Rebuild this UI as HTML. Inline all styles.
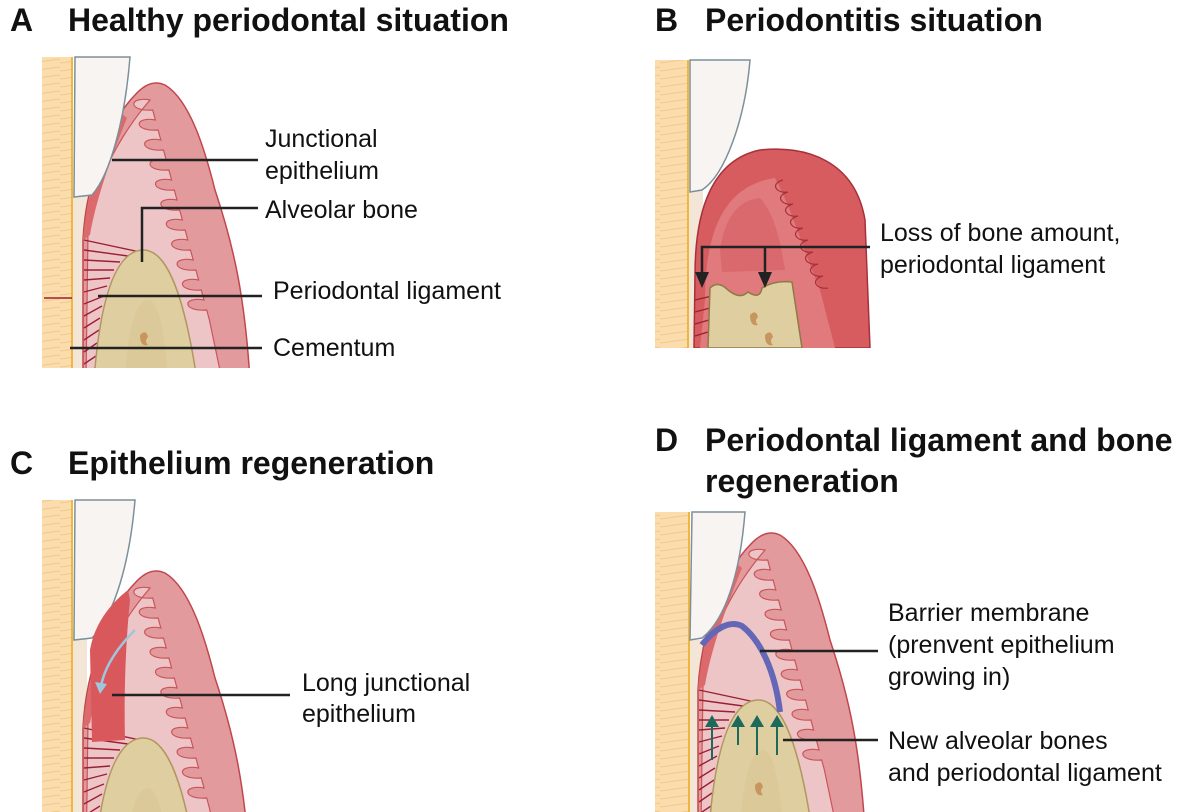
<!DOCTYPE html>
<html><head><meta charset="utf-8"><style>
html,body{margin:0;padding:0;background:#fff;overflow:hidden;width:1200px;height:812px;}
svg{display:block;font-family:"Liberation Sans",Arial,sans-serif;}
.t{font-size:32px;font-weight:bold;fill:#111;}
.l{font-size:25px;fill:#111;}
.ln{stroke:#222;stroke-width:2.5;fill:none;}
</style></head><body>
<svg width="1200" height="812" viewBox="0 0 1200 812" xmlns="http://www.w3.org/2000/svg">
<defs>
<clipPath id="cpA"><rect x="0" y="40" width="600" height="328"/></clipPath>
<clipPath id="cpB"><rect x="600" y="40" width="600" height="308"/></clipPath>
<clipPath id="cpC"><rect x="0" y="490" width="600" height="322"/></clipPath>
<clipPath id="cpD"><rect x="600" y="505" width="600" height="307"/></clipPath>
<pattern id="str" width="30" height="8" patternUnits="userSpaceOnUse">
<rect width="30" height="8" fill="#fadcad"/><line x1="0" y1="7" x2="30" y2="3" stroke="#f1c382" stroke-width="0.8"/>
</pattern>
<g id="gum">
<path d="M83,240 C86,180 110,120 135,95 Q150,78 165,85 C190,100 205,150 215,190 C235,250 245,300 250,380 L83,380 Z" fill="#e39a9d" stroke="#c0474d" stroke-width="1.5"/>
<path d="M88,232 C95,180 120,135 150,100 c-22,-4 -22,12 2.7,10 l2.7,10 c-22,-4 -22,12 2.7,10 l2.7,10 c-22,-4 -22,12 2.7,10 l2.7,10 c-22,-4 -22,12 2.7,10 l2.7,10 c-22,-4 -22,12 2.7,10 l2.7,10 c-22,-4 -22,12 2.7,10 l2.7,10 c-22,-4 -22,12 2.7,10 l2.7,10 c-22,-4 -22,12 2.7,10 l2.7,10 c-22,-4 -22,12 2.7,10 l2.7,10 c-22,-4 -22,12 2.7,10 l2.7,10 c-22,-4 -22,12 2.7,10 l2.7,10 L222,380 L86,380 Z" fill="#eec5c6" stroke="#c9555b" stroke-width="1.2"/>
<path d="M83,240 C86,200 100,150 120,112 L127,118 C110,160 96,200 90,235 Z" fill="#dc6a6d"/>
<g stroke="#9b1f33" stroke-width="1.4">
<line x1="84" y1="240" x2="140" y2="252"/><line x1="84" y1="250" x2="128" y2="256"/><line x1="84" y1="260" x2="120" y2="262"/><line x1="84" y1="270" x2="114" y2="270"/><line x1="84" y1="280" x2="110" y2="278"/><line x1="84" y1="292" x2="107" y2="286"/><line x1="84" y1="304" x2="104" y2="296"/><line x1="84" y1="316" x2="102" y2="306"/><line x1="84" y1="328" x2="100" y2="318"/><line x1="84" y1="340" x2="99" y2="330"/><line x1="84" y1="352" x2="97" y2="343"/><line x1="84" y1="364" x2="96" y2="356"/><line x1="84" y1="376" x2="95" y2="368"/>
</g>
<path d="M94,380 C100,300 115,252 142,250 C168,248 185,300 197,380 Z" fill="#dfcfa0" stroke="#b09760" stroke-width="1.5"/>
<path d="M125,380 C128,320 138,300 148,300 C158,300 165,330 168,380 Z" fill="#d8c494" opacity="0.6"/>
<path d="M140,335 q6,-6 8,2 q-4,4 0,8 q-8,2 -8,-10Z" fill="#c9955f"/>
</g>
</defs>

<!-- Panel A -->
<text x="10" y="31" class="t">A</text><text x="68" y="31" class="t">Healthy periodontal situation</text>
<g clip-path="url(#cpA)">
<rect x="42" y="57" width="30" height="311" fill="url(#str)"/>
<line x1="72" y1="57" x2="72" y2="368" stroke="#efb640" stroke-width="2"/>
<rect x="73" y="190" width="14" height="178" fill="#f3e6d6"/>
<use href="#gum"/>
<path d="M75,57 L130,57 C125,120 110,175 92,195 L74,197 Z" fill="#f8f4f2" stroke="#7d8f99" stroke-width="1.5"/>
<line x1="44" y1="298" x2="72" y2="298" stroke="#9b1f33" stroke-width="1.4"/>
</g>
<path class="ln" d="M112,160 H258 M142,262 V208 H258 M98,296 H262 M70,348 H262"/>
<text x="265" y="147" class="l">Junctional</text><text x="265" y="179" class="l">epithelium</text>
<text x="265" y="218" class="l">Alveolar bone</text>
<text x="273" y="299" class="l">Periodontal ligament</text>
<text x="273" y="356" class="l">Cementum</text>

<!-- Panel B -->
<text x="655" y="31" class="t">B</text><text x="705" y="31" class="t">Periodontitis situation</text>
<g clip-path="url(#cpB)">
<rect x="655" y="60" width="33" height="288" fill="url(#str)"/>
<line x1="688" y1="60" x2="688" y2="348" stroke="#efb640" stroke-width="2"/>
<rect x="689" y="190" width="14" height="158" fill="#f3e6d6"/>
<path d="M695,275 C695,210 712,160 760,150 C805,145 855,160 865,220 L870,348 L694,348 Z" fill="#d65c60" stroke="#a8303a" stroke-width="1.5"/>
<path d="M705,300 C705,230 725,185 775,178 C790,205 800,240 820,290 L835,348 L700,348 Z" fill="#e07a7c"/>
<path d="M720,250 C725,215 740,200 760,198 C775,215 780,240 785,270 L722,272 Z" fill="#d9696c"/>
<path d="M783,180 c-14,4 -6,14 5,12 c-14,4 -6,14 5,12 c-14,4 -6,14 5,12 c-14,4 -6,14 5,12 c-14,4 -6,14 5,12 c-14,4 -6,14 5,12 c-14,4 -6,14 5,12 c-14,4 -6,14 5,12 c-14,4 -6,14 5,12" fill="none" stroke="#a8303a" stroke-width="1.2"/>
<g stroke="#9b1f33" stroke-width="1.4"><line x1="695" y1="300" x2="712" y2="296"/><line x1="695" y1="312" x2="710" y2="308"/><line x1="695" y1="324" x2="709" y2="320"/><line x1="695" y1="336" x2="708" y2="332"/></g>
<path d="M708,348 L710,288 Q718,280 728,290 Q740,300 748,292 Q760,300 762,288 Q775,280 792,282 L802,348 Z" fill="#dfcfa0" stroke="#8e7a45" stroke-width="1.5"/>
<path d="M750,315 q6,-6 8,2 q-4,4 0,8 q-8,2 -8,-10Z M765,335 q6,-6 8,2 q-4,4 0,8 q-8,2 -8,-10Z" fill="#c9955f"/>
<path d="M690,60 L750,60 C745,120 725,175 702,190 L690,192 Z" fill="#f8f4f2" stroke="#7d8f99" stroke-width="1.5"/>
</g>
<path class="ln" d="M870,247 H702 V272 M765,247 V272"/>
<path d="M695,272 L709,272 L702,288 Z M758,272 L772,272 L765,288 Z" fill="#222"/>
<text x="880" y="241" class="l">Loss of bone amount,</text><text x="880" y="273" class="l">periodontal ligament</text>

<!-- Panel C -->
<text x="10" y="474" class="t">C</text><text x="68" y="474" class="t">Epithelium regeneration</text>
<g clip-path="url(#cpC)">
<rect x="42" y="500" width="30" height="312" fill="url(#str)"/>
<line x1="72" y1="500" x2="72" y2="812" stroke="#efb640" stroke-width="2"/>
<rect x="73" y="630" width="14" height="182" fill="#f3e6d6"/>
<use href="#gum" transform="translate(0,488)"/>
<path d="M75,500 L135,500 C130,560 115,615 92,638 L74,640 Z" fill="#f8f4f2" stroke="#7d8f99" stroke-width="1.5"/>
<path d="M90,650 C95,620 115,600 128,590 L130,600 C125,650 124,700 125,740 L92,742 Z" fill="#d9585c"/>
<path d="M135,630 C120,645 105,665 101,686" fill="none" stroke="#9fc6de" stroke-width="2.5"/>
<path d="M95,682 L107,684 L100,694 Z" fill="#9fc6de"/>
</g>
<path class="ln" d="M112,695 H290"/>
<text x="302" y="691" class="l">Long junctional</text><text x="302" y="722" class="l">epithelium</text>

<!-- Panel D -->
<text x="655" y="451" class="t">D</text><text x="705" y="451" class="t">Periodontal ligament and bone</text>
<text x="705" y="492" class="t">regeneration</text>
<g clip-path="url(#cpD)">
<rect x="655" y="512" width="34" height="300" fill="url(#str)"/>
<line x1="689" y1="512" x2="689" y2="812" stroke="#efb640" stroke-width="2"/>
<rect x="690" y="640" width="14" height="172" fill="#f3e6d6"/>
<use href="#gum" transform="translate(615,450)"/>
<path d="M692,512 L745,512 C740,575 725,620 702,638 L690,640 Z" fill="#f8f4f2" stroke="#7d8f99" stroke-width="1.5"/>
</g>
<path d="M702,645 C715,628 730,620 742,626 C760,640 775,670 780,712" fill="none" stroke="#6467b8" stroke-width="6"/>
<g stroke="#1d6a5a" stroke-width="2" fill="#1d6a5a">
<line x1="712" y1="760" x2="712" y2="725"/><path d="M705,727 L719,727 L712,715 Z" stroke="none"/>
<line x1="738" y1="745" x2="738" y2="725"/><path d="M731,727 L745,727 L738,715 Z" stroke="none"/>
<line x1="757" y1="755" x2="757" y2="725"/><path d="M750,727 L764,727 L757,715 Z" stroke="none"/>
<line x1="777" y1="755" x2="777" y2="725"/><path d="M770,727 L784,727 L777,715 Z" stroke="none"/>
</g>
<path class="ln" d="M760,651 H878 M783,740 H878"/>
<text x="888" y="621" class="l">Barrier membrane</text><text x="888" y="653" class="l">(prenvent epithelium</text><text x="888" y="685" class="l">growing in)</text>
<text x="888" y="749" class="l">New alveolar bones</text><text x="888" y="781" class="l">and periodontal ligament</text>
</svg>
</body></html>
